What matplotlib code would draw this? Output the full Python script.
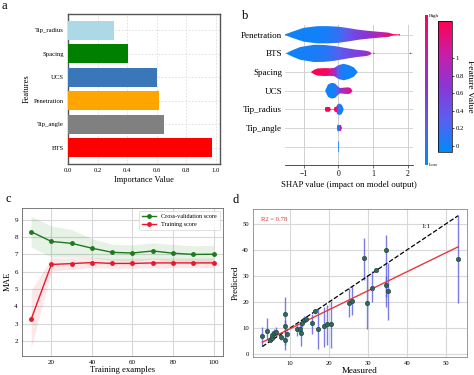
import numpy as np
import matplotlib
matplotlib.use('Agg')
import matplotlib.pyplot as plt
from matplotlib.colors import LinearSegmentedColormap, Normalize
import matplotlib.colorbar as mcolorbar

plt.rcParams['font.family'] = ['Liberation Serif', 'DejaVu Serif']

# ---- a: feature importance
imp_features = ['BTS', 'Tip_angle', 'Penetration', 'UCS', 'Spacing', 'Tip_radius']
imp_values = [0.973, 0.65, 0.617, 0.60, 0.405, 0.315]
imp_colors = ['#ff0000', '#808080', '#ffa500', '#3a77b8', '#008000', '#add8e6']

# ---- b: shap violins (x, half width, feature value), top row first
shap_labels = ['Penetration', 'BTS', 'Spacing', 'UCS', 'Tip_radius', 'Tip_angle', '']
shap_x = [
    [-1.55, -1.3, -1.0, -0.6, -0.3, 0.0, 0.3, 0.6, 0.9, 1.2, 1.45, 1.55, 1.75],
    [-1.5, -1.35, -1.1, -0.7, -0.4, -0.1, 0.2, 0.5, 0.8, 0.9, 0.95],
    [-0.78, -0.7, -0.6, -0.4, -0.25, -0.12, 0.0, 0.15, 0.3, 0.45, 0.55],
    [-0.38, -0.3, -0.2, -0.1, 0.0, 0.05, 0.15, 0.28, 0.35, 0.4],
    [-0.4, -0.37, -0.3, -0.25, -0.22, -0.13, -0.11, -0.08, -0.06, -0.03, 0.03, 0.1, 0.15],
    [-0.05, -0.03, 0.0, 0.02, 0.04, 0.07, 0.1],
    [-0.012, -0.01, 0.01, 0.012],
]
shap_w = [
    [0.0, 0.17, 0.36, 0.45, 0.45, 0.42, 0.34, 0.25, 0.19, 0.14, 0.1, 0.03, 0.0],
    [0.0, 0.14, 0.33, 0.45, 0.44, 0.38, 0.28, 0.19, 0.13, 0.08, 0.0],
    [0.0, 0.11, 0.18, 0.2, 0.19, 0.21, 0.36, 0.43, 0.36, 0.23, 0.0],
    [0.0, 0.32, 0.41, 0.38, 0.19, 0.13, 0.15, 0.17, 0.13, 0.0],
    [0.0, 0.11, 0.12, 0.11, 0.0, 0.0, 0.12, 0.12, 0.13, 0.25, 0.3, 0.23, 0.0],
    [0.0, 0.15, 0.18, 0.13, 0.15, 0.15, 0.0],
    [0.0, 0.28, 0.28, 0.0],
]
shap_c = [
    [0.05, 0.05, 0.05, 0.05, 0.08, 0.15, 0.32, 0.45, 0.55, 0.7, 0.92, 1.0, 1.0],
    [0.05, 0.05, 0.05, 0.08, 0.1, 0.2, 0.33, 0.42, 0.55, 0.7, 0.75],
    [1.0, 1.0, 1.0, 0.95, 0.9, 0.6, 0.2, 0.05, 0.05, 0.05, 0.05],
    [0.05, 0.05, 0.05, 0.08, 0.3, 0.55, 0.7, 0.8, 0.85, 0.85],
    [1, 1, 1, 1, 1, 1, 0.95, 0.9, 0.5, 0.1, 0.05, 0.05, 0.05],
    [0.05, 0.05, 0.1, 0.5, 0.85, 0.9, 0.9],
    [0.05, 0.05, 0.05, 0.05],
]
shap_out_x = [1.75, 1.02, 2.07, -0.75]
shap_out_row = [6, 5, 5, 4]
shap_out_c = [1.0, 0.8, 0.6, 1.0]

# ---- c: learning curve
train_sizes = [10, 20, 30, 40, 50, 60, 70, 80, 90, 100]
cv_mean = [8.31, 7.75, 7.64, 7.36, 7.12, 7.08, 7.2, 7.07, 7.0, 7.01]
cv_std = [0.88, 0.9, 0.8, 0.55, 0.47, 0.47, 0.47, 0.5, 0.5, 0.5]
train_mean = [3.25, 6.42, 6.47, 6.53, 6.48, 6.48, 6.51, 6.51, 6.51, 6.51]
train_std = [1.65, 0.38, 0.33, 0.3, 0.28, 0.28, 0.28, 0.28, 0.28, 0.28]

# ---- d: measured vs predicted
measured = [2.9, 4.0, 4.8, 5.3, 5.5, 5.9, 6.5, 7.6, 8.6, 8.7, 8.6, 9.2, 11.9, 12.5,
            12.8, 13.1, 13.7, 14.2, 15.7, 16.4, 17.2, 18.7, 19.5, 20.5, 25.1, 26.0,
            28.9, 29.8, 31.0, 32.1, 34.6, 34.8, 35.3, 53.2]
predicted = [6.8, 8.8, 5.6, 6.2, 7.3, 8.0, 8.6, 6.5, 15.4, 10.8, 5.3, 7.6, 9.5, 9.8,
             8.0, 12.1, 13.1, 13.6, 11.8, 16.6, 9.7, 10.8, 11.7, 11.7, 19.7, 20.6,
             36.8, 19.6, 25.6, 32.2, 40.2, 26.5, 24.2, 36.5]
pred_low = [3.3, 5.6, 4.5, 5.0, 6.0, 6.5, 7.0, 5.5, 1.5, 8.0, 3.5, 6.5, 7.0, 8.0,
            3.0, 10.5, 12.0, 12.5, 7.8, 15.5, 2.0, 2.8, 3.5, 2.3, 14.1, 15.0,
            28.5, 9.5, 20.0, 31.5, 18.2, 22.0, 13.0, 19.5]
pred_high = [10.5, 13.7, 7.0, 8.0, 9.0, 9.8, 10.5, 7.8, 22.0, 13.0, 7.0, 9.0, 11.5, 12.5,
             12.0, 13.5, 14.5, 14.5, 15.5, 17.5, 17.5, 18.0, 19.0, 20.5, 25.3, 26.0,
             44.5, 30.4, 32.0, 33.0, 45.8, 30.0, 34.9, 53.5]
r2_text = 'R2 = 0.78'

fig = plt.figure(figsize=(4.74, 3.75), dpi=100)

# ================= a
ax = fig.add_axes([0.1435, 0.5627, 0.3205, 0.4])
ypos = np.arange(len(imp_features))
ax.barh(ypos, imp_values, height=0.8, color=imp_colors, zorder=3)
ax.set_yticks(ypos)
ax.set_yticklabels(imp_features, fontsize=4.8)
ax.set_xlim(0, 1.03)
ax.set_xticks([0, 0.2, 0.4, 0.6, 0.8, 1.0])
ax.set_xticklabels(['0.0', '0.2', '0.4', '0.6', '0.8', '1.0'], fontsize=4.8)
ax.tick_params(length=0, pad=3)
ax.grid(True, ls=(0, (2, 2)), color='#dddddd', lw=0.6, zorder=0)
ax.set_xlabel('Importance Value', fontsize=6, labelpad=2)
ax.set_ylabel('Features', fontsize=6, labelpad=2)
for s in ax.spines.values():
    s.set_color('#555555')
    s.set_linewidth(1.0)

# ================= b
cmap = LinearSegmentedColormap.from_list('shap', ['#008afb', '#5a5ef0', '#8b35d6', '#c81ea8', '#ff0052'])
axb = fig.add_axes([0.601, 0.5592, 0.27, 0.373])
nrow = len(shap_labels)
for i in range(nrow):
    row = nrow - 1 - i
    axb.axhline(row, color='#d0d0d0', lw=0.6, zorder=0)
    xs = np.array(shap_x[i]); ws = np.array(shap_w[i]); cs = np.array(shap_c[i])
    xx = np.linspace(xs[0], xs[-1], 400)
    ww = np.interp(xx, xs, ws)
    k = np.ones(11) / 11
    ww = np.convolve(np.pad(ww, 5, mode='edge'), k, mode='valid')
    ww[0] = ww[-1] = 0
    cc = np.interp(xx, xs, cs)
    poly = axb.fill_between(xx, row - ww - 0.012, row + ww + 0.012, color='none', lw=0)
    img = axb.imshow(cc[None, :], extent=[xx[0], xx[-1], row - 0.5, row + 0.5],
                     aspect='auto', cmap=cmap, vmin=0, vmax=1, origin='lower',
                     interpolation='bilinear', zorder=2)
    img.set_clip_path(poly.get_paths()[0], transform=axb.transData)
axb.scatter(shap_out_x, shap_out_row, s=1.2, c=shap_out_c, cmap=cmap, vmin=0, vmax=1,
            lw=0, zorder=3)
for xv in [-1, 0, 1, 2]:
    axb.axvline(xv, color='#d0d0d0', lw=0.7, zorder=0)
axb.set_xlim(-1.54, 2.14)
axb.set_ylim(-1, 6.5)
axb.set_yticks(range(nrow))
axb.set_yticklabels(shap_labels[::-1], fontsize=6.5)
axb.set_xticks([-1, 0, 1, 2])
axb.set_xticklabels(['\u22121', '0', '1', '2'], fontsize=5.5)
axb.tick_params(axis='y', length=0, pad=2)
axb.tick_params(axis='x', length=2, width=0.5, pad=1.5, color='#333333')
for side in ['left', 'right', 'top']:
    axb.spines[side].set_visible(False)
axb.spines['bottom'].set_color('#333333')
axb.spines['bottom'].set_linewidth(0.6)
axb.set_xlabel('SHAP value (impact on model output)', fontsize=6.3, labelpad=2)

# thin high/low bar
axhl = fig.add_axes([0.8975, 0.56, 0.0045, 0.4])
cb1 = mcolorbar.ColorbarBase(axhl, cmap=cmap, norm=Normalize(0, 1), orientation='vertical')
cb1.set_ticks([0, 1])
cb1.set_ticklabels(['Low', 'High'])
cb1.outline.set_visible(False)
axhl.tick_params(length=0, labelsize=3.6, pad=1)

# big colorbar
axcb = fig.add_axes([0.924, 0.5947, 0.0295, 0.350])
cb2 = mcolorbar.ColorbarBase(axcb, cmap=cmap, norm=Normalize(-0.07, 1.43), orientation='vertical')
cb2.set_ticks([0, 0.2, 0.4, 0.6, 0.8, 1.0])
cb2.set_ticklabels(['0', '0.2', '0.4', '0.6', '0.8', '1'])
cb2.outline.set_linewidth(0.5)
axcb.tick_params(length=1.5, width=0.5, labelsize=4.8, pad=1)
cb2.set_label('Feature Value', fontsize=6.8, rotation=270, labelpad=7)

# ================= c
axc = fig.add_axes([0.0464, 0.0515, 0.4234, 0.3947])
cv_mean_a = np.array(cv_mean); cv_std_a = np.array(cv_std)
tr_mean_a = np.array(train_mean); tr_std_a = np.array(train_std)
axc.fill_between(train_sizes, cv_mean_a - cv_std_a, cv_mean_a + cv_std_a, color='green', alpha=0.1, lw=0)
axc.fill_between(train_sizes, tr_mean_a - tr_std_a, tr_mean_a + tr_std_a, color='#e8192c', alpha=0.1, lw=0)
axc.plot(train_sizes, cv_mean, 'o-', color='#1f7a1f', ms=2.5, lw=1, label='Cross-validation score')
axc.plot(train_sizes, train_mean, 'o-', color='#e8192c', ms=2.5, lw=1, label='Training score')
axc.set_xlim(5.5, 104.5)
axc.set_ylim(1.15, 9.7)
axc.set_xticks([20, 40, 60, 80, 100])
axc.set_yticks([2, 3, 4, 5, 6, 7, 8, 9])
axc.tick_params(length=0, labelsize=5, pad=3)
axc.grid(True, color='#d8d8d8', lw=0.8, zorder=0)
axc.set_axisbelow(True)
axc.set_xlabel('Training examples', fontsize=6.3, labelpad=1)
axc.set_ylabel('MAE', fontsize=6.3, labelpad=2)
for s in axc.spines.values():
    s.set_color('#666666')
    s.set_linewidth(0.6)
leg = axc.legend(loc='upper right', fontsize=4.4, frameon=True, handlelength=2.2,
                 borderpad=0.5, labelspacing=0.4, handletextpad=0.8)
leg.get_frame().set_edgecolor('#cccccc')
leg.get_frame().set_linewidth(0.5)

# ================= d
axd = fig.add_axes([0.5338, 0.0488, 0.4515, 0.3939])
m = np.array(measured); p = np.array(predicted)
yerr = [p - np.array(pred_low), np.array(pred_high) - p]
axd.errorbar(m, p, yerr=yerr, fmt='none', ecolor='#5050e0', elinewidth=1.0, alpha=0.75, zorder=2)
axd.scatter(m, p, s=10, color='#2d6a58', edgecolor='#1f3f36', lw=0.4, zorder=4)
lims = np.array([m.min(), m.max()])
axd.plot(lims, lims, ls='--', color='black', lw=0.9, zorder=3)
slope, icpt = np.polyfit(m, p, 1)
axd.plot(lims, slope * lims + icpt, color='#e8383d', lw=1.0, zorder=3)
axd.text(45, 49, '1:1', fontsize=5, ha='center', va='center')
axd.text(0.035, 0.93, r2_text, transform=axd.transAxes, color='#e03030', fontsize=4.8, va='center')
axd.set_xlim(0.5, 55.5)
axd.set_ylim(-1, 55.8)
axd.set_xticks([10, 20, 30, 40, 50])
axd.set_yticks([0, 10, 20, 30, 40, 50])
axd.tick_params(length=0, labelsize=4.8, pad=3)
axd.grid(True, color='#d8d8d8', lw=0.8, zorder=0)
axd.set_axisbelow(True)
axd.set_xlabel('Measured', fontsize=6.5, labelpad=1)
axd.set_ylabel('Predicted', fontsize=6.5, labelpad=2)
for s in axd.spines.values():
    s.set_color('#888888')
    s.set_linewidth(0.6)

# panel letters
fig.text(0.004, 0.985, 'a', fontsize=9, va='center')
fig.text(0.51, 0.958, 'b', fontsize=9, va='center')
fig.text(0.012, 0.468, 'c', fontsize=9, va='center')
fig.text(0.49, 0.466, 'd', fontsize=9, va='center')

fig.savefig('out.png', dpi=100)
